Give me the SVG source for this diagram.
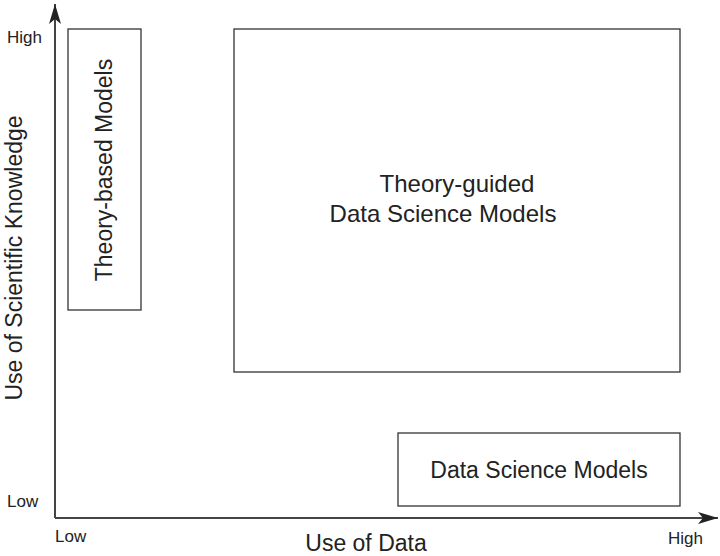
<svg xmlns="http://www.w3.org/2000/svg" width="720" height="556" viewBox="0 0 720 556">
<style>
text{font-family:"Liberation Sans",Arial,sans-serif;fill:#222}
.b{fill:none;stroke:#333;stroke-width:1.3}
.ax{stroke:#444;stroke-width:2;fill:none}
.l{font-size:17px}
.m{font-size:23px}
.c{font-size:24px}
</style>
<defs><marker id="ah" viewBox="0 0 20 12" refX="20" refY="6" markerWidth="20" markerHeight="12" orient="auto" markerUnits="userSpaceOnUse"><path d="M0,0 L20,6 L0,12 L5,6 z" fill="#222"/></marker></defs>
<rect width="720" height="556" fill="#fff"/>
<g id="connectors">
<path class="ax" d="M55,518 L55,4" marker-end="url(#ah)"/>
<path class="ax" d="M55,518 L718,518" marker-end="url(#ah)"/>
</g>
<g id="theory-based"><rect class="b" x="68" y="29" width="73" height="281"/>
<text class="m" transform="translate(112,170) rotate(-90)" text-anchor="middle">Theory-based Models</text></g>
<g id="tgds"><rect class="b" x="234" y="29" width="446" height="343"/>
<text class="c" x="457" y="192" text-anchor="middle">Theory-guided</text>
<text class="c" x="443" y="222" text-anchor="middle">Data Science Models</text></g>
<g id="ds"><rect class="b" x="398" y="433" width="282" height="73"/>
<text class="m" x="539" y="478" text-anchor="middle">Data Science Models</text></g>
<g id="labels">
<text class="l" x="7" y="43">High</text>
<text class="l" x="7" y="507">Low</text>
<text class="l" x="55" y="542">Low</text>
<text class="l" x="668" y="544">High</text>
<text class="m" x="366" y="551" text-anchor="middle">Use of Data</text>
<text class="m" transform="translate(22,258) rotate(-90)" text-anchor="middle">Use of Scientific  Knowledge</text>
</g>
</svg>
